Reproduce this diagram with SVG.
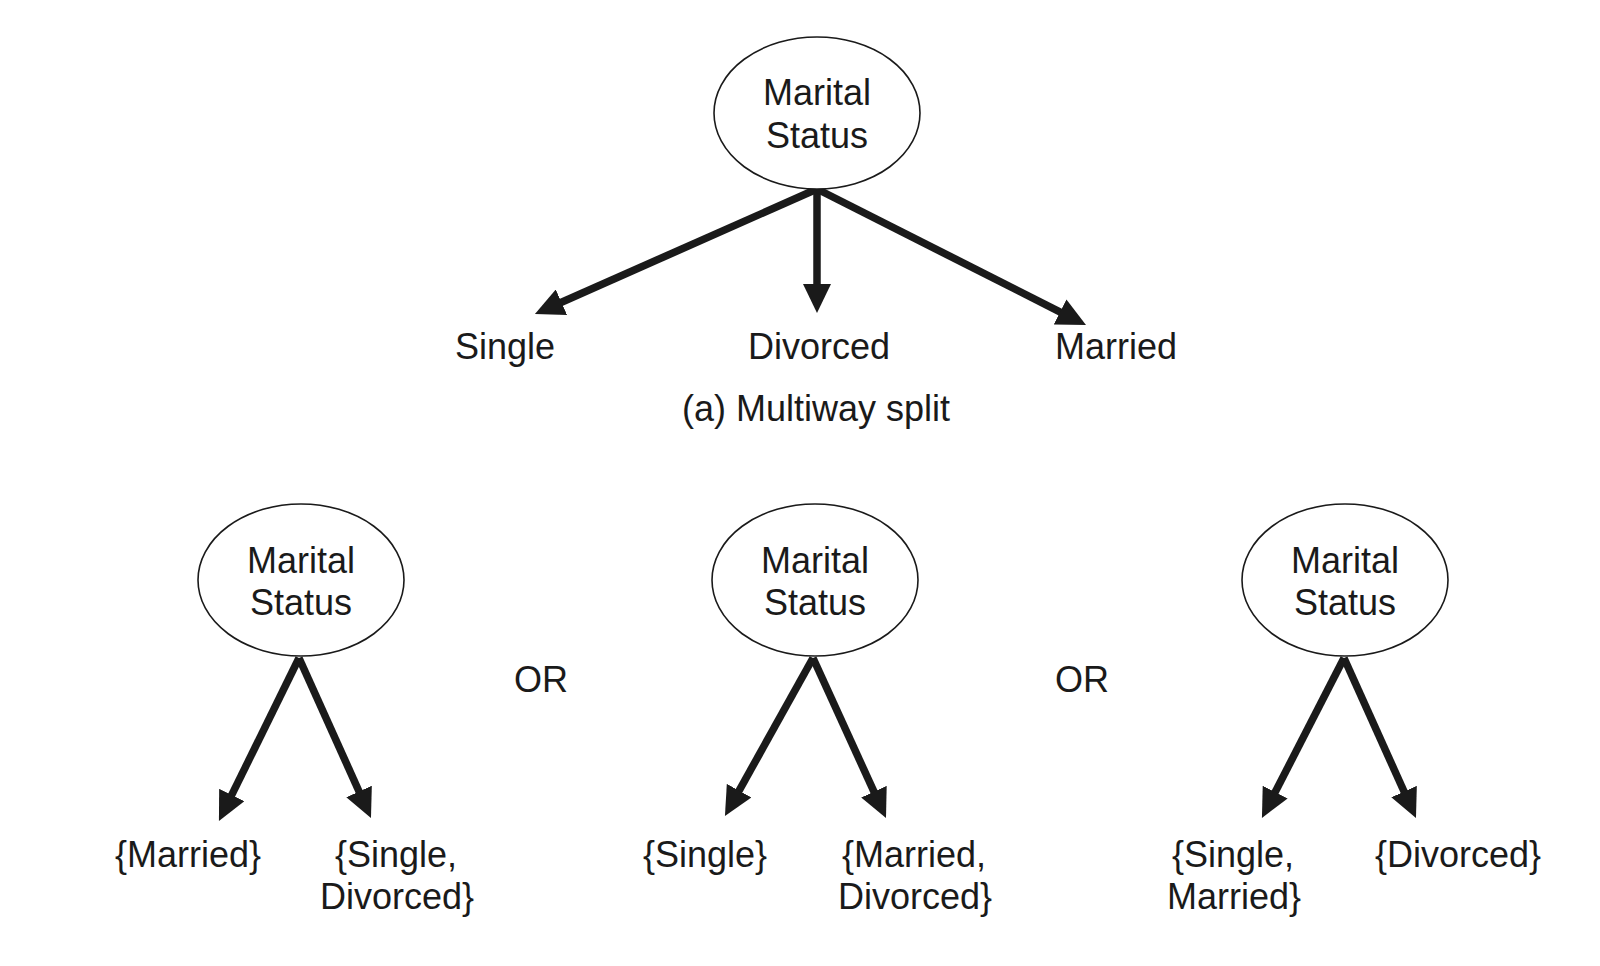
<svg xmlns="http://www.w3.org/2000/svg" width="1600" height="966" viewBox="0 0 1600 966">
<defs>
<style>
.node ellipse{fill:#fff;stroke:#1a1a1a;stroke-width:1.6}
text{font-family:"Liberation Sans",Arial,sans-serif;font-size:36px;fill:#1a1a1a;text-anchor:middle}
.edge{stroke:#1a1a1a;stroke-width:7.5;fill:none;marker-end:url(#ah)}
</style>
<marker id="ah" viewBox="0 0 29 28" refX="3" refY="14" markerWidth="29" markerHeight="28" markerUnits="userSpaceOnUse" orient="auto">
<path d="M0,0 L29,14 L0,28 z" fill="#1a1a1a"/>
</marker>
</defs>
<rect width="1600" height="966" fill="#fff"/>
<g id="connectors">
<line class="edge" x1="817" y1="189" x2="558.7" y2="303.5"/>
<line class="edge" x1="817" y1="189" x2="817" y2="287"/>
<line class="edge" x1="817" y1="189" x2="1062.8" y2="313.3"/>
<line class="edge" x1="299" y1="658" x2="230.4" y2="797.7"/>
<line class="edge" x1="299" y1="658" x2="360.3" y2="794.2"/>
<line class="edge" x1="813" y1="658" x2="737.6" y2="793.3"/>
<line class="edge" x1="813" y1="658" x2="875.2" y2="794.4"/>
<line class="edge" x1="1344" y1="658" x2="1273.8" y2="794.8"/>
<line class="edge" x1="1344" y1="658" x2="1405.3" y2="794.3"/>
</g>
<g id="root-a" class="node">
<ellipse cx="817" cy="113" rx="103" ry="76"/>
<text x="817" y="105">Marital</text>
<text x="817" y="148">Status</text>
</g>
<g id="leaf-single"><text x="505" y="359">Single</text></g>
<g id="leaf-divorced"><text x="819" y="359">Divorced</text></g>
<g id="leaf-married"><text x="1116" y="359">Married</text></g>
<g id="caption"><text x="816" y="421">(a) Multiway split</text></g>
<g id="root-b1" class="node">
<ellipse cx="301" cy="580" rx="103" ry="76"/>
<text x="301" y="573">Marital</text>
<text x="301" y="615">Status</text>
</g>
<g id="b1-left"><text x="188" y="867">{Married}</text></g>
<g id="b1-right"><text x="396" y="867">{Single,</text><text x="397" y="909">Divorced}</text></g>
<g id="or1"><text x="541" y="692">OR</text></g>
<g id="root-b2" class="node">
<ellipse cx="815" cy="580" rx="103" ry="76"/>
<text x="815" y="573">Marital</text>
<text x="815" y="615">Status</text>
</g>
<g id="b2-left"><text x="705" y="867">{Single}</text></g>
<g id="b2-right"><text x="914" y="867">{Married,</text><text x="915" y="909">Divorced}</text></g>
<g id="or2"><text x="1082" y="692">OR</text></g>
<g id="root-b3" class="node">
<ellipse cx="1345" cy="580" rx="103" ry="76"/>
<text x="1345" y="573">Marital</text>
<text x="1345" y="615">Status</text>
</g>
<g id="b3-left"><text x="1233" y="867">{Single,</text><text x="1234" y="909">Married}</text></g>
<g id="b3-right"><text x="1458" y="867">{Divorced}</text></g>
</svg>
